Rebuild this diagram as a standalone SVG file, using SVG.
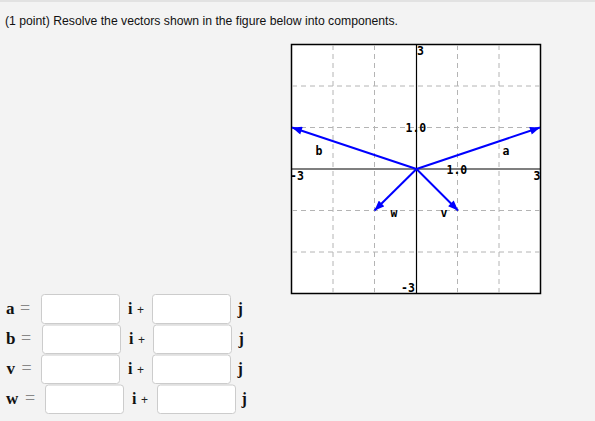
<svg xmlns="http://www.w3.org/2000/svg" width="595" height="421" viewBox="0 0 595 421">
<style>
.title{font-family:"Liberation Sans",Arial,sans-serif;font-size:12.6px;fill:#111}
.grid{stroke:#b4b4b4;stroke-width:1;stroke-dasharray:5,4;fill:none}
.axis{stroke:#000;stroke-width:1.2;fill:none}
.lbl{font-family:"DejaVu Sans Mono","Liberation Mono",monospace;font-size:11.5px;font-weight:bold;fill:#000}
.vec{stroke:#0000ff;stroke-width:2;fill:none;marker-end:url(#ah)}
.var{font-family:"Liberation Serif","Times New Roman",serif;font-size:17px;font-weight:bold;fill:#111}
.eq{font-family:"Liberation Serif","Times New Roman",serif;font-size:18px;fill:#888}
.plus{font-family:"Liberation Sans",Arial,sans-serif;font-size:12px;fill:#222}
.box{fill:#fff;stroke:#cccccc;stroke-width:1}
</style>
<defs>
<marker id="ah" viewBox="0 0 10 8" refX="10" refY="4" markerWidth="11" markerHeight="8" markerUnits="userSpaceOnUse" orient="auto">
<path d="M0,0 L10,4 L0,8 z" fill="#0000ff"/>
</marker>
</defs>
<rect x="0" y="0" width="595" height="421" fill="#f3f3f3"/>
<rect x="0" y="0" width="595" height="2" fill="#e2e2e2"/>
<text class="title" x="5" y="25" textLength="393" lengthAdjust="spacingAndGlyphs">(1 point) Resolve the vectors shown in the figure below into components.</text>

<g id="graph">
<rect x="291.5" y="44.5" width="249" height="249" fill="#fff" stroke="#000" stroke-width="1.5"/>
<g class="grid">
<line x1="333" y1="45" x2="333" y2="293"/>
<line x1="374.5" y1="45" x2="374.5" y2="293"/>
<line x1="457.5" y1="45" x2="457.5" y2="293"/>
<line x1="499" y1="45" x2="499" y2="293"/>
<line x1="292" y1="86" x2="540" y2="86"/>
<line x1="292" y1="127.5" x2="540" y2="127.5"/>
<line x1="292" y1="210.5" x2="540" y2="210.5"/>
<line x1="292" y1="252" x2="540" y2="252"/>
</g>
<line class="axis" x1="416.5" y1="44.5" x2="416.5" y2="293.5"/>
<line class="axis" x1="291.5" y1="169" x2="540.5" y2="169"/>
<text class="lbl" x="417" y="55">3</text>
<text class="lbl" x="405.5" y="132">1.0</text>
<text class="lbl" x="290" y="179.5">-3</text>
<text class="lbl" x="446.5" y="174">1.0</text>
<text class="lbl" x="533.5" y="180">3</text>
<text class="lbl" x="401" y="292">-3</text>
</g>

<g id="connectors">
<line class="vec" x1="416.5" y1="169" x2="540" y2="127.5"/>
<line class="vec" x1="416.5" y1="169" x2="292" y2="127.5"/>
<line class="vec" x1="416.5" y1="169" x2="374.5" y2="210.5"/>
<line class="vec" x1="416.5" y1="169" x2="458" y2="210.5"/>
</g>

<g id="node-a"><text class="lbl" x="502.5" y="155">a</text></g>
<g id="node-b"><text class="lbl" x="315.5" y="155">b</text></g>
<g id="node-w"><text class="lbl" x="390.5" y="217">w</text></g>
<g id="node-v"><text class="lbl" x="440.5" y="217">v</text></g>

<g id="row-a">
<text class="var" x="6" y="314">a</text><text class="eq" x="20" y="314">=</text>
<rect class="box" x="41.5" y="294.5" width="78" height="29" rx="3"/>
<text class="var" x="128" y="314" style="font-size:16px">i</text><text class="plus" x="137" y="314">+</text>
<rect class="box" x="152.5" y="294.5" width="78" height="29" rx="3"/>
<text class="var" x="237.5" y="314" style="font-size:16px">j</text>
</g>
<g id="row-b">
<text class="var" x="6" y="344">b</text><text class="eq" x="21" y="344">=</text>
<rect class="box" x="42.5" y="325" width="78" height="28.5" rx="3"/>
<text class="var" x="129" y="344" style="font-size:16px">i</text><text class="plus" x="138" y="344">+</text>
<rect class="box" x="153.5" y="325" width="78" height="28.5" rx="3"/>
<text class="var" x="238.5" y="344" style="font-size:16px">j</text>
</g>
<g id="row-v">
<text class="var" x="6.5" y="374">v</text><text class="eq" x="21.5" y="374">=</text>
<rect class="box" x="41.5" y="355" width="78" height="28.5" rx="3"/>
<text class="var" x="128" y="374" style="font-size:16px">i</text><text class="plus" x="137" y="374">+</text>
<rect class="box" x="152.5" y="355" width="78" height="28.5" rx="3"/>
<text class="var" x="237.5" y="374" style="font-size:16px">j</text>
</g>
<g id="row-w">
<text class="var" x="6" y="404">w</text><text class="eq" x="25" y="404">=</text>
<rect class="box" x="45.5" y="385" width="78" height="28.5" rx="3"/>
<text class="var" x="132" y="404" style="font-size:16px">i</text><text class="plus" x="141" y="404">+</text>
<rect class="box" x="157.5" y="385" width="78" height="28.5" rx="3"/>
<text class="var" x="241.5" y="404" style="font-size:16px">j</text>
</g>
</svg>
